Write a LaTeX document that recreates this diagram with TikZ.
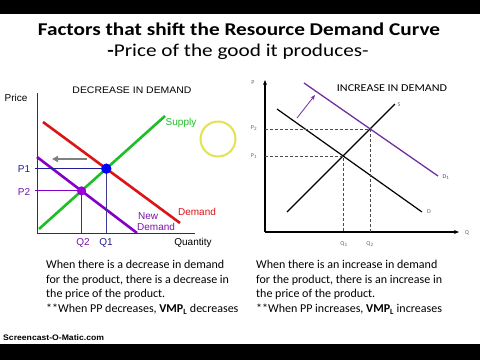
\documentclass[tikz,border=0pt]{standalone}
\usepackage{fontspec}
\setmainfont{Carlito}
\newfontfamily\arialf{Liberation Sans}
\usetikzlibrary{arrows.meta,intersections}
\definecolor{cred}{RGB}{220,20,20}
\definecolor{cgreen}{RGB}{30,190,40}
\definecolor{cpurple}{RGB}{130,0,200}
\definecolor{cblue}{RGB}{0,0,255}
\definecolor{cdblue}{RGB}{30,30,150}
\definecolor{cpurtext}{RGB}{120,20,170}
\definecolor{cd1}{RGB}{112,48,160}
\definecolor{cyel}{RGB}{225,228,80}
\tikzset{
  lab/.style={font=\arialf\fontsize{10}{10}\selectfont, inner sep=0pt},
  small/.style={font=\fontsize{6}{6}\selectfont, text=black!60, inner sep=0pt},
  curve/.style={line width=2.6pt},
  axl/.style={line width=0.9pt, black!80},
  axr/.style={line width=1.3pt, -{Stealth[length=5pt,width=4pt]}},
  guide/.style={line width=0.6pt, densely dashed, black!70},
  para/.style={anchor=north west, align=left, inner sep=0pt, font=\fontsize{12}{14.6}\selectfont}
}
\begin{document}
\begin{tikzpicture}[x=1pt,y=-1pt]
\useasboundingbox (0,0) rectangle (480,360);
\fill[white] (0,0) rectangle (480,360);
\fill[black] (0,0) rectangle (480,14);
\fill[black] (0,344) rectangle (480,360);

\node[font=\bfseries\fontsize{18}{20}\selectfont] (title) at (239,29) {\scalebox{1.18}[1]{Factors that shift the Resource Demand Curve}};
\node[font=\fontsize{18}{20}\selectfont] (sub) at (238,52) {\scalebox{1.18}[1]{\textbf{-}Price of the good it produces-}};

% ---------- left chart ----------
\coordinate (lytop) at (37,93);
\coordinate (lo) at (37,233);
\coordinate (lxend) at (195,233);
\draw[axl] (lytop) -- (lo) -- (lxend);
\node[lab] (price) at (16,98) {Price};
\node[lab, font=\arialf\fontsize{9.5}{10}\selectfont] (dec) at (132,90) {\scalebox{1.1}[1]{DECREASE IN DEMAND}};
\node[lab] (qty) at (193,243) {Quantity};

\coordinate (dA) at (43,122); \coordinate (dB) at (180,223);
\coordinate (sA) at (39,229); \coordinate (sB) at (165,116);
\coordinate (nA) at (37,157); \coordinate (nB) at (137,233);
\draw[curve, cred, name path=dem] (dA) -- (dB);
\draw[curve, cgreen, name path=sup] (sA) -- (sB);
\draw[curve, cpurple, name path=ndem] (nA) -- (nB);
\path[name intersections={of=dem and sup, by=E1}];
\path[name intersections={of=ndem and sup, by=E2}];

\node[lab, text=cdblue] (p1) at (24,169) {P1};
\node[lab, text=cpurtext] (p2) at (24,192) {P2};
\node[lab, text=cpurtext] (q2) at (83,243) {Q2};
\node[lab, text=cdblue] (q1) at (106,243) {Q1};
\draw[cdblue, line width=0.9pt] (35,0 |- E1) -- (E1);
\draw[cdblue!70!gray, line width=0.9pt] (E1) -- (E1 |- lo);
\draw[cpurple, line width=0.9pt] (35,0 |- E2) -- (E2);
\draw[cpurple, line width=0.9pt] (E2) -- (E2 |- lo);
\fill[cblue] (E1) circle (5.2pt);
\fill[cpurple!80!magenta] (E2) circle (4.6pt);

\node[lab, text=cgreen] (suplab) at (181,123) {Supply};
\node[lab, text=cred] (demlab) at (197,212) {Demand};
\node[lab, text=cpurtext, align=left, anchor=north west, font=\arialf\fontsize{10}{11}\selectfont] (newlab) at (137,212) {\hspace*{1pt}New\\Demand};

\coordinate (gaS) at (87,159); \coordinate (gaE) at (52,159);
\draw[gray, line width=1.4pt, -{Triangle[length=6pt,width=6pt]}] (gaS) -- (gaE);

\draw[cyel, line width=2pt] (218,139) circle (17.5pt);

% ---------- right chart ----------
\coordinate (ro) at (265,232);
\coordinate (rytop) at (265,80);
\coordinate (rxend) at (459,232);
\draw[axr] (ro) -- (rytop);
\draw[axr] (ro) -- (rxend);
\node[small] (rp) at (253,83) {P};
\node[small] (rq) at (467,233) {Q};
\node[font=\fontsize{10.5}{11}\selectfont, inner sep=0pt] (inc) at (392,88) {\scalebox{1.15}[1]{INCREASE IN DEMAND}};

\coordinate (DA) at (277,109); \coordinate (DB) at (422,212);
\coordinate (SA) at (287,212); \coordinate (SB) at (395,104);
\coordinate (D1A) at (304,83); \coordinate (D1B) at (438,176);
\draw[line width=1.2pt, name path=rD] (DA) -- (DB);
\draw[line width=1.2pt, name path=rS] (SA) -- (SB);
\draw[line width=1.3pt, cd1, name path=rD1] (D1A) -- (D1B);
\path[name intersections={of=rD and rS, by=F1}];
\path[name intersections={of=rD1 and rS, by=F2}];
\draw[guide] (F1 -| ro) -- (F1) -- (F1 |- ro);
\draw[guide] (F2 -| ro) -- (F2) -- (F2 |- ro);
\node[small] (rp2) at (254,128) {P\textsubscript{2}};
\node[small] (rp1) at (254,156) {P\textsubscript{1}};
\node[small] (rq1) at (344,244) {Q\textsubscript{1}};
\node[small] (rq2) at (370,244) {Q\textsubscript{2}};
\node[small, text=cd1] (rd1) at (446,177) {D\textsubscript{1}};
\node[small] (rdl) at (429,212) {D};
\node[small] (rsl) at (399,105) {S};
\coordinate (paS) at (297,118); \coordinate (paE) at (315,95);
\draw[cd1, line width=0.8pt, -{Stealth[length=5pt,width=4pt]}] (paS) -- (paE);

% ---------- text ----------
\node[para] (tl) at (46,260) {When there is a decrease in demand\\for the product, there is a decrease in\\the price of the product.\\**When PP decreases, \textbf{VMP\textsubscript{L}} decreases};
\node[para] (tr) at (256,260) {When there is an increase in demand\\for the product, there is an increase in\\the price of the product.\\**When PP increases, \textbf{VMP\textsubscript{L}} increases};

\node[anchor=west, inner sep=0pt, font=\arialf\bfseries\fontsize{8}{8}\selectfont] (wm) at (3,337.5) {\scalebox{1.08}[1]{Screencast-O-Matic.com}};
\end{tikzpicture}
\end{document}
